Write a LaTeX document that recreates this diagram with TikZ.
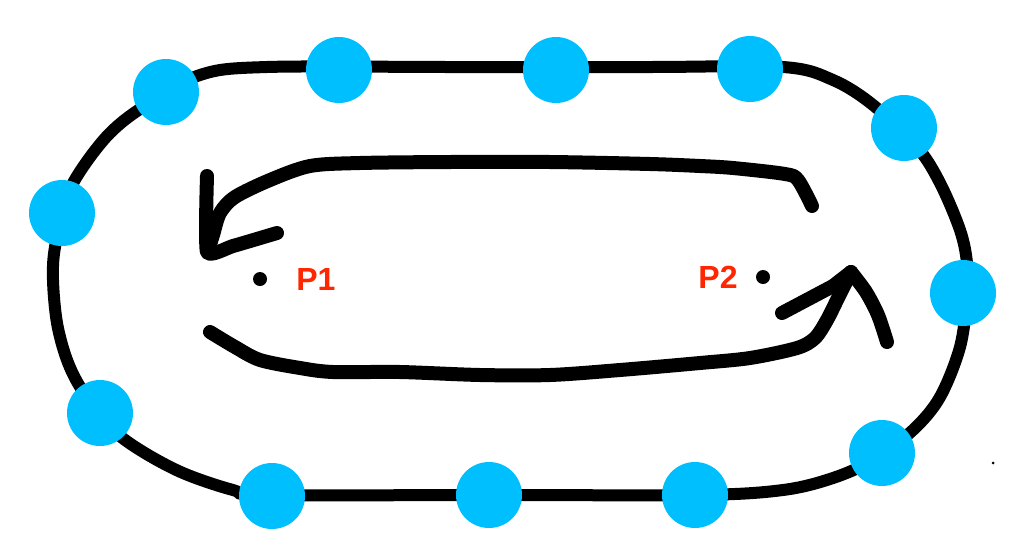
\documentclass[tikz,border=0pt]{standalone}
\usepackage{fontspec}
\usepackage{xcolor}
\newfontfamily\plabelfont{Liberation Sans}
\usetikzlibrary{positioning}
\definecolor{dotblue}{RGB}{0,191,255}
\definecolor{pred}{RGB}{255,38,0}

\begin{document}
\begin{tikzpicture}[x=1pt,y=-1pt,
    track/.style={line width=12pt},
    stroke/.style={line width=14pt, line cap=round, line join=round},
    station/.style={circle, fill=dotblue, minimum size=66pt, inner sep=0pt},
    pt/.style={circle, fill=black, minimum size=14pt, inner sep=0pt},
    plabel/.style={text=pred, inner sep=3pt, font=\plabelfont\bfseries\fontsize{32}{32}\selectfont}]
    \useasboundingbox (0,0) rectangle (1024,552);

    % Track outline
    \draw[track] plot[smooth cycle, tension=0.55] coordinates {
        (267,67) (450,67) (650,67) (783,67) (833,80) (873,105) (917,147)
        (940,183) (960,230) (967,263) (967,297) (960,347) (940,397)
        (913,430) (873,460) (833,478) (783,490) (700,495) (500,495)
        (267,495) (233,490) (183,473) (140,450) (110,427) (82,390)
        (67,360) (57,323) (53,280) (55,247) (67,197) (83,167) (110,133)
        (143,107) (200,75)};

    % Stations on the track
    \node[station] (s1) at (166,92) {};
    \node[station] (s2) at (339,70) {};
    \node[station] (s3) at (556,70) {};
    \node[station] (s4) at (750,69) {};
    \node[station] (s5) at (904,128) {};
    \node[station] (s6) at (963,293) {};
    \node[station] (s7) at (882,453) {};
    \node[station] (s8) at (695,495) {};
    \node[station] (s9) at (489,495) {};
    \node[station] (s10) at (272,496) {};
    \node[station] (s11) at (100,413) {};
    \node[station] (s12) at (62,213) {};

    % Points
    \node[pt] (p1) at (260,279) {};
    \node[plabel, right=26pt of p1] (l1) {P1};
    \node[pt] (p2) at (763,277) {};
    \node[plabel, left=15pt of p2] (l2) {P2};
    \node[circle, fill=black, minimum size=3pt, inner sep=0pt] (speck) at (993,463) {};

    % Upper stroke: right to left
    \draw[stroke] plot[smooth, tension=0.5] coordinates {
        (812,206) (798,180) (785,174) (733,168) (700,166) (650,164)
        (550,162) (450,162) (360,163) (310,166) (270,180) (235,197)
        (220,213) (213,235) (208,251)};
    \draw[stroke] plot[smooth, tension=0.3] coordinates {
        (207,176) (207,252) (233,246) (277,233)};

    % Lower stroke: left to right
    \draw[stroke] plot[smooth, tension=0.5] coordinates {
        (210,332) (235,347) (260,360) (300,368) (333,372) (400,372)
        (480,375) (550,375) (620,370) (700,363) (750,358) (797,348)
        (815,338) (827,320) (837,300) (845,284) (851,273)};
    \draw[stroke] (782,313) -- (833,286) -- (851,272);
    \draw[stroke] plot[smooth, tension=0.5] coordinates {
        (851,272) (866,292) (878,315) (887,342)};
\end{tikzpicture}
\end{document}
